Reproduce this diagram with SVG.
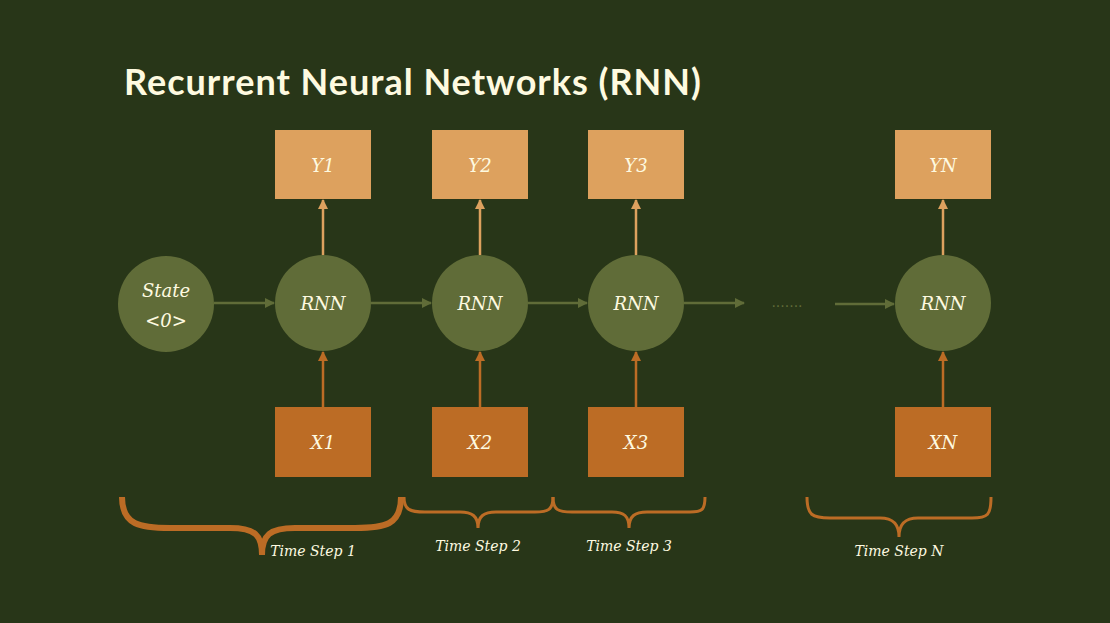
<svg xmlns="http://www.w3.org/2000/svg" width="1110" height="623" viewBox="0 0 1110 623">
<defs>
<marker id="ag" viewBox="0 0 10 10" refX="9" refY="5" markerWidth="4" markerHeight="4" orient="auto"><path d="M0,0L10,5L0,10z" fill="#606C38"/></marker>
<marker id="ao" viewBox="0 0 10 10" refX="9" refY="5" markerWidth="4" markerHeight="4" orient="auto"><path d="M0,0L10,5L0,10z" fill="#DDA15E"/></marker>
<marker id="ad" viewBox="0 0 10 10" refX="9" refY="5" markerWidth="4" markerHeight="4" orient="auto"><path d="M0,0L10,5L0,10z" fill="#BC6C25"/></marker>
</defs>
<style>
.c{fill:#606C38}.y{fill:#DDA15E}.x{fill:#BC6C25}
.t{font-family:"DejaVu Serif",serif;font-style:italic;font-size:18px;fill:#FEFAE0;text-anchor:middle;dominant-baseline:central}
.s{font-family:"DejaVu Serif",serif;font-style:italic;font-size:14px;fill:#FEFAE0;text-anchor:middle}
.g{stroke:#606C38;stroke-width:2.5;fill:none;marker-end:url(#ag)}
.o{stroke:#DDA15E;stroke-width:2.5;fill:none;marker-end:url(#ao)}
.d{stroke:#BC6C25;stroke-width:2.5;fill:none;marker-end:url(#ad)}
.b{stroke:#BC6C25;fill:none;stroke-linecap:butt}
</style>
<rect width="1110" height="623" fill="#283618"/>
<text x="124" y="95" font-family="Lato,'Open Sans',sans-serif" font-size="36" font-weight="bold" fill="#FEFAE0" letter-spacing="1">Recurrent Neural Networks (RNN)</text>
<g id="connectors">
<path class="g" d="M214,303H274"/><path class="g" d="M371,303H431"/><path class="g" d="M528,303H587"/><path class="g" d="M684,303H744"/><path class="g" d="M835,304H894"/>
<path class="o" d="M323,255V200"/><path class="o" d="M480,255V200"/><path class="o" d="M636,255V200"/><path class="o" d="M943,255V200"/>
<path class="d" d="M323,407V352"/><path class="d" d="M480,407V352"/><path class="d" d="M636,407V352"/><path class="d" d="M943,407V352"/>
</g>
<text x="787" y="307" font-family="DejaVu Sans,sans-serif" font-size="14" fill="#606C38" text-anchor="middle">.......</text>
<g id="state"><circle class="c" cx="166" cy="304" r="48"/><text class="t" x="166" y="290">State</text><text class="t" x="166" y="320">&lt;0&gt;</text></g>
<g id="rnn1"><circle class="c" cx="323" cy="303" r="48"/><text class="t" x="323" y="303">RNN</text></g>
<g id="rnn2"><circle class="c" cx="480" cy="303" r="48"/><text class="t" x="480" y="303">RNN</text></g>
<g id="rnn3"><circle class="c" cx="636" cy="303" r="48"/><text class="t" x="636" y="303">RNN</text></g>
<g id="rnnN"><circle class="c" cx="943" cy="303" r="48"/><text class="t" x="943" y="303">RNN</text></g>
<g id="y1"><rect class="y" x="275" y="130" width="96" height="69"/><text class="t" x="323" y="165">Y1</text></g>
<g id="y2"><rect class="y" x="432" y="130" width="96" height="69"/><text class="t" x="480" y="165">Y2</text></g>
<g id="y3"><rect class="y" x="588" y="130" width="96" height="69"/><text class="t" x="636" y="165">Y3</text></g>
<g id="yN"><rect class="y" x="895" y="130" width="96" height="69"/><text class="t" x="943" y="165">YN</text></g>
<g id="x1"><rect class="x" x="275" y="407" width="96" height="70"/><text class="t" x="323" y="442">X1</text></g>
<g id="x2"><rect class="x" x="432" y="407" width="96" height="70"/><text class="t" x="480" y="442">X2</text></g>
<g id="x3"><rect class="x" x="588" y="407" width="96" height="70"/><text class="t" x="636" y="442">X3</text></g>
<g id="xN"><rect class="x" x="895" y="407" width="96" height="70"/><text class="t" x="943" y="442">XN</text></g>
<g id="braces">
<path class="b" stroke-width="6" d="M122,497C122,525 140,528 170,528H230C255,528 262,535 262,555M262,555C262,535 270,528 295,528H355C385,528 401,525 401,497"/>
<path class="b" stroke-width="3" d="M404,497C404,510 410,512 425,512H460C472,512 478,516 478,528M478,528C478,516 484,512 496,512H535C548,512 553,510 553,497"/>
<path class="b" stroke-width="3" d="M553,497C553,510 558,512 572,512H612C624,512 629,516 629,528M629,528C629,516 635,512 647,512H690C702,512 705,510 705,497"/>
<path class="b" stroke-width="3" d="M807,497C807,515 812,518 830,518H880C893,518 899,524 899,537M899,537C899,524 905,518 918,518H972C988,518 991,515 991,497"/>
</g>
<text class="s" x="313" y="556">Time Step 1</text>
<text class="s" x="478" y="551">Time Step 2</text>
<text class="s" x="629" y="551">Time Step 3</text>
<text class="s" x="899" y="556">Time Step N</text>
</svg>
